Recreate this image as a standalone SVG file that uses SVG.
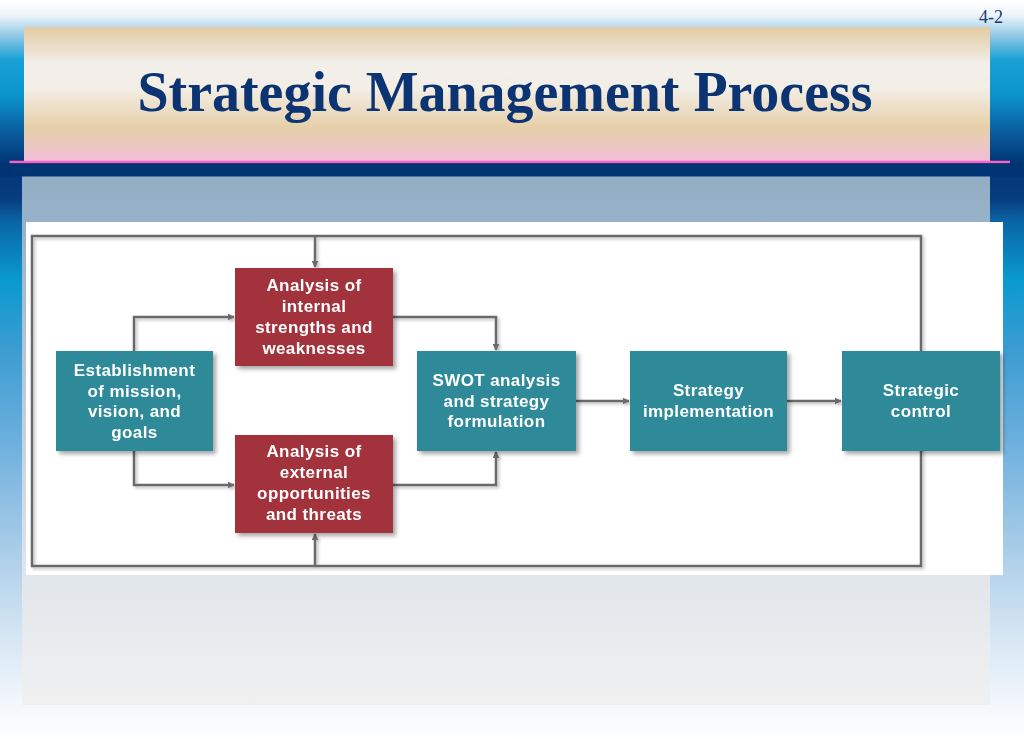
<svg xmlns="http://www.w3.org/2000/svg" width="1024" height="739" viewBox="0 0 1024 739">
  <defs>
    <linearGradient id="bgGrad" x1="0" y1="0" x2="0" y2="1">
      <stop offset="0" stop-color="#ffffff"/>
      <stop offset="0.02" stop-color="#eef5fa"/>
      <stop offset="0.05" stop-color="#8cc6e4"/>
      <stop offset="0.08" stop-color="#1aa2d6"/>
      <stop offset="0.13" stop-color="#0b93cc"/>
      <stop offset="0.18" stop-color="#0a5c9c"/>
      <stop offset="0.22" stop-color="#003676"/>
      <stop offset="0.27" stop-color="#083e80"/>
      <stop offset="0.30" stop-color="#0a66a6"/>
      <stop offset="0.38" stop-color="#0a9ad0"/>
      <stop offset="0.47" stop-color="#3a9cd2"/>
      <stop offset="0.61" stop-color="#72b2de"/>
      <stop offset="0.74" stop-color="#a8cce8"/>
      <stop offset="0.85" stop-color="#d2e4f2"/>
      <stop offset="0.95" stop-color="#f2f7fb"/>
      <stop offset="1" stop-color="#ffffff"/>
    </linearGradient>
    <linearGradient id="headGrad" x1="0" y1="0" x2="0" y2="1">
      <stop offset="0" stop-color="#e3cba3"/>
      <stop offset="0.28" stop-color="#f2efea"/>
      <stop offset="0.45" stop-color="#f3eee6"/>
      <stop offset="0.75" stop-color="#e6cfa8"/>
      <stop offset="0.9" stop-color="#ecc6c6"/>
      <stop offset="1" stop-color="#f3bcd8"/>
    </linearGradient>
    <linearGradient id="panelGrad" x1="0" y1="0" x2="0" y2="1">
      <stop offset="0" stop-color="#93adc4"/>
      <stop offset="0.1" stop-color="#98b3c9"/>
      <stop offset="0.75" stop-color="#e1e6eb"/>
      <stop offset="1" stop-color="#f0f0f0"/>
    </linearGradient>
    <filter id="shadow" x="-10%" y="-10%" width="130%" height="130%">
      <feDropShadow dx="3" dy="3" stdDeviation="2" flood-color="#000000" flood-opacity="0.35"/>
    </filter>
    <filter id="lineShadow" x="-5%" y="-5%" width="110%" height="110%">
      <feDropShadow dx="2" dy="2" stdDeviation="1.5" flood-color="#000000" flood-opacity="0.25"/>
    </filter>
    <marker id="arrow" viewBox="0 0 10 10" refX="9" refY="5" markerWidth="7" markerHeight="7" markerUnits="userSpaceOnUse" orient="auto">
      <path d="M0,0 L10,5 L0,10 z" fill="#6a6a6a"/>
    </marker>
    <style>
      .teal { fill: #2e8a99; }
      .red { fill: #a2313a; }
      .lbl { font-family: "Liberation Sans", Arial, Helvetica, sans-serif; font-weight: bold; font-size: 17px; fill: #ffffff; text-anchor: middle; letter-spacing: 0.4px; }
      .conn { fill: none; stroke: #6a6a6a; stroke-width: 2.5; }
    </style>
  </defs>

  <!-- background -->
  <rect x="0" y="0" width="1024" height="739" fill="url(#bgGrad)"/>
  <rect x="24" y="27" width="966" height="135" fill="url(#headGrad)"/>
  <line x1="9.5" y1="162" x2="1010" y2="162" stroke="#ff5fc8" stroke-width="2.5"/>
  <rect x="0" y="163.5" width="1024" height="13" fill="#003473"/>
  <rect x="22" y="176.5" width="968" height="528.5" fill="url(#panelGrad)"/>
  <rect x="26" y="222" width="977" height="353" fill="#ffffff"/>

  <text x="505" y="111" font-family="'Liberation Serif', 'Times New Roman', serif" font-weight="bold" font-size="57" fill="#0c3472" text-anchor="middle" textLength="735" lengthAdjust="spacingAndGlyphs">Strategic Management Process</text>
  <text x="1003" y="23" font-family="'Liberation Serif', 'Times New Roman', serif" font-size="18" fill="#1a3a6e" text-anchor="end">4-2</text>

  <!-- connectors -->
  <g id="connectors" filter="url(#lineShadow)">
    <rect x="32" y="236" width="889" height="330" class="conn" stroke-width="3"/>
    <path class="conn" d="M315,236 V267" marker-end="url(#arrow)"/>
    <path class="conn" d="M315,566 V534" marker-end="url(#arrow)"/>
    <path class="conn" d="M134,351 V317 H234" marker-end="url(#arrow)"/>
    <path class="conn" d="M134,451 V485 H234" marker-end="url(#arrow)"/>
    <path class="conn" d="M393,317 H496 V350" marker-end="url(#arrow)"/>
    <path class="conn" d="M393,485 H496 V452" marker-end="url(#arrow)"/>
    <path class="conn" d="M576,401 H629" marker-end="url(#arrow)"/>
    <path class="conn" d="M787,401 H841" marker-end="url(#arrow)"/>
  </g>

  <!-- nodes -->
  <g id="node-establishment" filter="url(#shadow)">
    <rect x="56" y="351" width="157" height="100" class="teal"/>
    <text class="lbl" x="134.5" y="376">Establishment</text>
    <text class="lbl" x="134.5" y="397">of mission,</text>
    <text class="lbl" x="134.5" y="417">vision, and</text>
    <text class="lbl" x="134.5" y="438">goals</text>
  </g>
  <g id="node-internal" filter="url(#shadow)">
    <rect x="235" y="268" width="158" height="98" class="red"/>
    <text class="lbl" x="314" y="291">Analysis of</text>
    <text class="lbl" x="314" y="312">internal</text>
    <text class="lbl" x="314" y="333">strengths and</text>
    <text class="lbl" x="314" y="354">weaknesses</text>
  </g>
  <g id="node-external" filter="url(#shadow)">
    <rect x="235" y="435" width="158" height="98" class="red"/>
    <text class="lbl" x="314" y="457">Analysis of</text>
    <text class="lbl" x="314" y="478">external</text>
    <text class="lbl" x="314" y="499">opportunities</text>
    <text class="lbl" x="314" y="520">and threats</text>
  </g>
  <g id="node-swot" filter="url(#shadow)">
    <rect x="417" y="351" width="159" height="100" class="teal"/>
    <text class="lbl" x="496.5" y="386">SWOT analysis</text>
    <text class="lbl" x="496.5" y="407">and strategy</text>
    <text class="lbl" x="496.5" y="427">formulation</text>
  </g>
  <g id="node-implementation" filter="url(#shadow)">
    <rect x="630" y="351" width="157" height="100" class="teal"/>
    <text class="lbl" x="708.5" y="396">Strategy</text>
    <text class="lbl" x="708.5" y="417">implementation</text>
  </g>
  <g id="node-control" filter="url(#shadow)">
    <rect x="842" y="351" width="158" height="100" class="teal"/>
    <text class="lbl" x="921" y="396">Strategic</text>
    <text class="lbl" x="921" y="417">control</text>
  </g>
</svg>
